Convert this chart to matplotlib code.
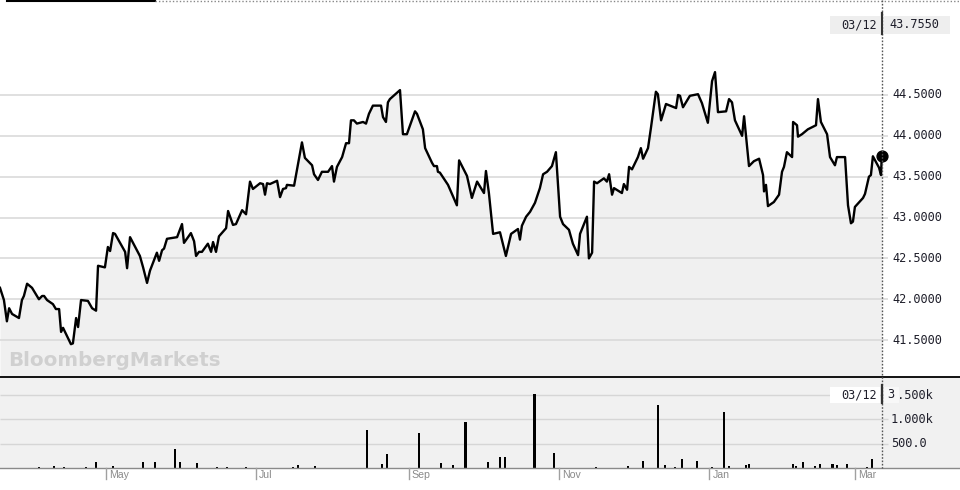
import pandas as pd
import matplotlib
matplotlib.use("Agg")
import matplotlib.pyplot as plt
from matplotlib.lines import Line2D
from matplotlib.patches import Rectangle
from matplotlib.transforms import blended_transform_factory

# 日期轴：以 2014-03-19 为第 0 天
START = pd.Timestamp("2014-03-19")

# 价格折线（天数偏移, 价格）
price_days = [
    0.0, 1.6, 2.8, 3.7, 4.9, 7.7, 8.9, 9.7, 11.0, 13.0,
    15.8, 17.1, 17.9, 19.1, 21.5, 22.7, 24.0, 24.8, 25.6, 28.8,
    29.6, 30.9, 31.7, 32.9, 35.7, 37.4, 39.0, 39.8, 42.6, 43.8,
    44.7, 45.9, 46.7, 50.8, 51.6, 52.8, 56.8, 58.1, 59.7, 60.9,
    63.7, 64.6, 65.8, 66.6, 67.8, 71.9, 73.9, 74.7, 77.5, 78.8,
    79.6, 80.8, 82.0, 84.4, 85.7, 86.5, 87.7, 88.9, 91.8, 92.6,
    94.6, 95.8, 98.3, 99.9, 101.5, 102.7, 105.6, 106.8, 107.6, 108.4,
    109.6, 112.5, 113.7, 114.9, 116.1, 116.5, 119.4, 122.6,
    123.8, 126.7, 127.5, 129.1, 130.7, 133.2, 134.8, 135.6, 136.8, 138.9,
    140.5, 141.7, 142.5, 143.7, 144.9, 147.4, 148.6, 149.8, 151.4, 154.7,
    155.5, 156.7, 157.5, 158.3, 162.4, 163.6, 165.2, 168.5, 169.3, 171.7,
    172.6, 175.4, 176.2, 177.4, 177.8, 178.6, 181.9, 185.5, 186.4, 189.6,
    191.6, 192.0, 193.7, 196.5, 197.3, 198.5, 200.2, 203.0, 205.4, 207.5,
    210.3, 211.1, 211.9, 213.6, 215.2, 217.2, 219.2, 220.5, 222.1, 224.1,
    225.7, 227.4, 228.6, 231.0, 232.6, 234.7, 235.5,
    238.3, 239.1, 240.4, 241.2, 242.4, 245.2, 246.4, 247.3, 248.5, 249.3,
    252.5, 253.3, 254.6, 255.4, 256.6, 259.0, 260.2, 261.1, 263.1, 264.3,
    266.3, 267.1, 268.4, 270.4, 274.5, 275.3, 276.1, 277.3, 280.1, 283.4,
    285.0, 287.4, 289.1, 290.3, 291.5, 294.8, 296.0, 297.2, 298.4, 301.3,
    302.1, 304.1, 306.1, 308.2, 309.8, 310.2, 311.0, 311.8, 314.2, 316.3,
    317.5, 318.3, 319.5, 321.6, 322.0, 323.6, 324.0, 325.6, 328.0, 331.3,
    332.1, 333.3, 335.8, 337.0, 339.0, 339.8, 343.1, 344.3, 345.5, 346.3,
    347.1, 350.4, 351.2, 352.8, 353.6, 354.4, 356.9, 357.7, 358.0,
]
price_values = [
    42.14, 41.99, 41.73, 41.89, 41.82, 41.77, 41.99, 42.04, 42.19, 42.14,
    42.00, 42.04, 42.04, 41.99, 41.94, 41.88, 41.88, 41.60, 41.65, 41.45,
    41.46, 41.77, 41.66, 41.99, 41.98, 41.89, 41.86, 42.41, 42.39, 42.64,
    42.59, 42.81, 42.80, 42.58, 42.38, 42.76, 42.53, 42.39, 42.20, 42.35,
    42.57, 42.47, 42.60, 42.62, 42.74, 42.76, 42.92, 42.69, 42.81, 42.71,
    42.53, 42.58, 42.58, 42.68, 42.58, 42.70, 42.58, 42.77, 42.87, 43.08,
    42.91, 42.92, 43.09, 43.04, 43.44, 43.35, 43.42, 43.41, 43.28, 43.42,
    43.41, 43.45, 43.25, 43.35, 43.36, 43.40, 43.39, 43.92,
    43.73, 43.64, 43.53, 43.46, 43.56, 43.56, 43.63, 43.44, 43.62, 43.74,
    43.91, 43.91, 44.19, 44.19, 44.15, 44.17, 44.15, 44.27, 44.37, 44.37,
    44.23, 44.17, 44.41, 44.45, 44.56, 44.02, 44.02, 44.30, 44.27, 44.08,
    43.85, 43.67, 43.63, 43.63, 43.56, 43.55, 43.40, 43.15, 43.70, 43.51,
    43.24, 43.28, 43.44, 43.30, 43.57, 43.30, 42.80, 42.82, 42.53, 42.80,
    42.86, 42.73, 42.90, 43.01, 43.07, 43.18, 43.36, 43.53, 43.56, 43.63,
    43.80, 43.01, 42.92, 42.85, 42.68, 42.54, 42.80,
    43.01, 42.50, 42.57, 43.44, 43.42, 43.48, 43.44, 43.53, 43.28, 43.36,
    43.30, 43.41, 43.34, 43.62, 43.59, 43.74, 43.85, 43.72, 43.85, 44.10,
    44.54, 44.51, 44.19, 44.39, 44.34, 44.50, 44.49, 44.35, 44.49, 44.51,
    44.40, 44.16, 44.67, 44.78, 44.29, 44.30, 44.45, 44.41, 44.19, 44.00,
    44.24, 43.63, 43.69, 43.72, 43.52, 43.32, 43.40, 43.14, 43.19, 43.28,
    43.56, 43.62, 43.80, 43.74, 44.17, 44.13, 43.99, 44.02, 44.08, 44.13,
    44.45, 44.17, 44.02, 43.74, 43.64, 43.74, 43.74, 43.15, 42.93, 42.95,
    43.13, 43.24, 43.29, 43.50, 43.52, 43.75, 43.61, 43.52, 43.755,
]

# 成交量柱
vol_days = [
    16, 22, 26, 35, 39, 46, 58, 63, 71, 73,
    80, 88, 92, 100, 119, 121, 128, 149, 155, 157,
    170, 179, 184, 189, 198, 203, 205, 217, 225, 242,
    255, 261, 267, 270, 274, 277, 283, 289, 294, 296,
    303, 304, 322, 323, 326, 331, 333, 338, 340, 344,
    352, 354,
]
vol_values = [
    15, 41, 20, 15, 110, 30, 117, 117, 385, 110,
    90, 10, 10, 10, 20, 48, 41, 778, 70, 290,
    716, 90, 48, 943, 117, 220, 220, 1515, 310, 15,
    41, 138, 1288, 48, 15, 186, 138, 20, 1157, 41,
    48, 70, 69, 41, 117, 30, 76, 76, 48, 76,
    10, 179,
]

price_grid = [41.5, 42.0, 42.5, 43.0, 43.5, 44.0, 44.5]
price_grid_labels = ["41.5000", "42.0000", "42.5000", "43.0000", "43.5000", "44.0000", "44.5000"]
vol_grid = [500, 1000, 1500]
vol_grid_labels = ["500.0", "1.000k", "1.500k"]
month_ticks = ["2014-05-01", "2014-07-01", "2014-09-01", "2014-11-01", "2015-01-01", "2015-03-01"]
month_labels = ["May", "Jul", "Sep", "Nov", "Jan", "Mar"]

last_date_label = "03/12"
last_price_label = "43.7550"
last_vol_label = "3"

W, H = 960, 490
PX_PER_DAY = 2.463
XMAX = W / PX_PER_DAY
MONO = "DejaVu Sans Mono"
LABEL_COLOR = "#1e1e2a"


def fx(px):
    return px / W


def fy(py):
    return 1 - py / H


fig = plt.figure(figsize=(W / 100, H / 100), dpi=100)

ax_p = fig.add_axes([0, fy(376.5), 1, 376.5 / H])
ax_v = fig.add_axes([0, fy(467.7), 1, (467.7 - 376.5) / H])

for ax in (ax_p, ax_v):
    ax.set_xlim(0, XMAX)
    ax.set_axis_off()

ymin, ymax = 44.5 - (376.5 - 95) / 81.7, 44.5 + 95 / 81.7
ax_p.set_ylim(ymin, ymax)
ax_v.set_ylim(0, (467.7 - 376.5) * 500 / 24.2)

# 成交量面板背景
ax_v.add_patch(Rectangle((0, 0), 1, 1, transform=ax_v.transAxes,
                         facecolor="#f1f1f1", edgecolor="none", zorder=0))

grid_end = 888 / PX_PER_DAY

# 价格面板
ax_p.fill_between(price_days, price_values, ymin, color="#f0f0f0", lw=0, zorder=1)
ax_p.hlines(price_grid, 0, grid_end, color="#dadada", lw=1.2, zorder=2)
ax_p.plot(price_days, price_values, color="black", lw=1.7, zorder=3)
ax_p.plot(price_days[-1], price_values[-1], "o", color="black", ms=7.8, zorder=4)

ytr = ax_p.get_yaxis_transform()
for val, lab in zip(price_grid, price_grid_labels):
    ax_p.text(fx(892), val, lab, transform=ytr, ha="left", va="center",
              family=MONO, fontsize=8.6, color=LABEL_COLOR)

# 成交量面板
ax_v.hlines(vol_grid, 0, grid_end, color="#d6d6d6", lw=1.0, zorder=1)
ax_v.bar(vol_days, vol_values, width=0.85, color="black", zorder=3)
vtr = ax_v.get_yaxis_transform()
for val, lab in zip(vol_grid, vol_grid_labels):
    ax_v.text(fx(891), val, lab, transform=vtr, ha="left", va="center",
              family=MONO, fontsize=8.6, color=LABEL_COLOR, zorder=2)

# 成交量基线和分隔线
fig.add_artist(Line2D([0, 1], [fy(467.7)] * 2, color="#8a8a8a", lw=1.0))
fig.add_artist(Line2D([0, 1], [fy(376.5)] * 2, color="black", lw=1.3))

# 顶部边框
fig.add_artist(Line2D([fx(7), fx(155)], [fy(0.8)] * 2, color="black", lw=1.5))
fig.add_artist(Line2D([fx(155), 1], [fy(0.8)] * 2, color="#888888", lw=1.0,
                      linestyle=(0, (1, 1.5))))

# 最后一个交易日的竖虚线
last_x = price_days[-1]
btr = blended_transform_factory(ax_p.transData, fig.transFigure)
fig.add_artist(Line2D([last_x, last_x], [fy(0), fy(468)], transform=btr,
                      color="#555555", lw=1.0, linestyle=(0, (1.2, 1.2)), zorder=5))

# 顶部价格标签
fig.add_artist(Rectangle((fx(830), fy(34)), fx(50), 18 / H, facecolor="#eeeeee",
                         edgecolor="none"))
fig.add_artist(Rectangle((fx(884), fy(34)), fx(66), 18 / H, facecolor="#eeeeee",
                         edgecolor="none"))
fig.add_artist(Line2D([last_x, last_x], [fy(13), fy(34)], transform=btr,
                      color="#333333", lw=1.6, zorder=6))
fig.text(fx(877), fy(25), last_date_label, ha="right", va="center",
         family=MONO, fontsize=8.6, color=LABEL_COLOR)
fig.text(fx(889), fy(25), last_price_label, ha="left", va="center",
         family=MONO, fontsize=8.6, color=LABEL_COLOR)

# 成交量标签（当日成交量压在 1.500k 刻度上，和原图一致）
fig.add_artist(Rectangle((fx(830), fy(403)), fx(50), 16 / H, facecolor="white",
                         edgecolor="none"))
fig.add_artist(Rectangle((fx(884), fy(403)), fx(15), 16 / H, facecolor="#f8f8f8",
                         edgecolor="none", zorder=4))
fig.add_artist(Line2D([last_x, last_x], [fy(385), fy(403)], transform=btr,
                      color="#333333", lw=1.6, zorder=6))
fig.text(fx(877), fy(394.5), last_date_label, ha="right", va="center",
         family=MONO, fontsize=8.6, color=LABEL_COLOR)
fig.text(fx(887), fy(394.5), last_vol_label, ha="left", va="center",
         family=MONO, fontsize=8.6, color=LABEL_COLOR, zorder=5)

# 月份刻度
mtr = blended_transform_factory(ax_v.transData, fig.transFigure)
for m, lab in zip(month_ticks, month_labels):
    d = (pd.Timestamp(m) - START).days
    fig.add_artist(Line2D([d, d], [fy(468), fy(479)], transform=mtr,
                          color="#a0a0a0", lw=1.0))
    fig.text(d + 3 / PX_PER_DAY, fy(474.5), lab, transform=mtr, ha="left",
             va="center", family="Liberation Sans", fontsize=7.6, color="#8a8a8a")

# 水印
fig.text(fx(8), fy(366.5), "BloombergMarkets", ha="left", va="baseline",
         family="DejaVu Sans", fontweight="bold", fontsize=14.3,
         color="#d0d0d0", zorder=0)

fig.savefig("out.png", dpi=100)
